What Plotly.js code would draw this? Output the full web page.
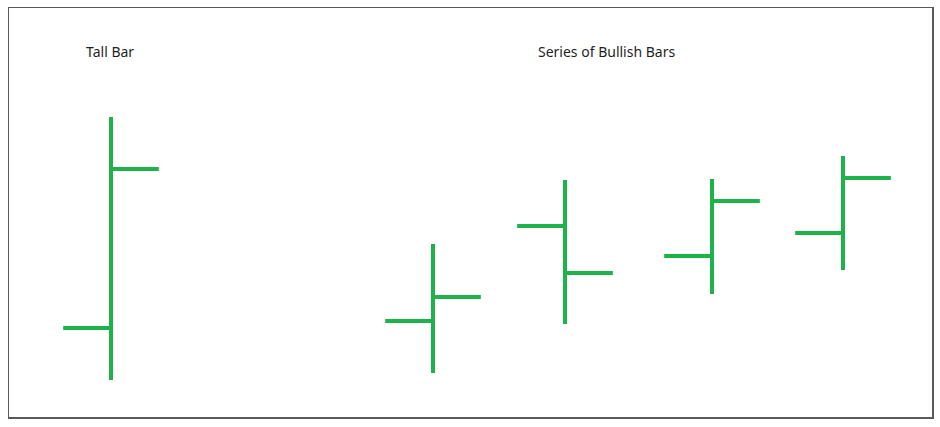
<!DOCTYPE html>
<html>
<head>
<meta charset="utf-8">
<script src="https://cdn.plot.ly/plotly-3.0.1.min.js"></script>
<style>
  html, body { margin: 0; padding: 0; background: #ffffff; }
  #chart { width: 940px; height: 427px; }
</style>
</head>
<body>
<div id="chart"></div>
<script>
// Bar positions (arbitrary time units) and OHLC values
const barX   = [10.2, 42.4, 55.6, 70.3, 83.4];
const openV  = [89, 96, 191, 161, 184];
const highV  = [300, 173, 237, 238, 261];
const lowV   = [37, 44, 93, 123, 147];
const closeV = [248, 120, 144, 216, 239];

const labelText = ["Tall Bar", "Series of Bullish Bars"];
const labelX    = [10.1, 59.7];
const labelY    = [366, 366];

const green = "#1db24a";

const trace = {
  type: "ohlc",
  x: barX,
  open: openV,
  high: highV,
  low: lowV,
  close: closeV,
  tickwidth: 0.365,
  increasing: { line: { color: green, width: 4 } },
  decreasing: { line: { color: green, width: 4 } },
  hoverinfo: "skip",
  showlegend: false
};

const annotations = labelText.map((t, i) => ({
  text: t,
  x: labelX[i],
  y: labelY[i],
  xref: "x",
  yref: "y",
  showarrow: false,
  xanchor: "center",
  yanchor: "middle",
  font: { family: "Noto Sans, Open Sans, sans-serif", size: 14, color: "#1f1f1f" }
}));

const layout = {
  width: 940,
  height: 427,
  margin: { l: 9, r: 8, t: 8, b: 10, pad: 0 },
  paper_bgcolor: "#ffffff",
  plot_bgcolor: "#ffffff",
  showlegend: false,
  xaxis: {
    range: [0, 92.3],
    showgrid: false, zeroline: false, showticklabels: false, ticks: "",
    showline: true, mirror: true, linecolor: "#595959", linewidth: 1.5,
    rangeslider: { visible: false },
    fixedrange: true
  },
  yaxis: {
    range: [0, 409],
    showgrid: false, zeroline: false, showticklabels: false, ticks: "",
    showline: true, mirror: true, linecolor: "#595959", linewidth: 1.5,
    fixedrange: true
  },
  annotations: annotations
};

Plotly.newPlot("chart", [trace], layout, { staticPlot: true, displayModeBar: false });
</script>
</body>
</html>
